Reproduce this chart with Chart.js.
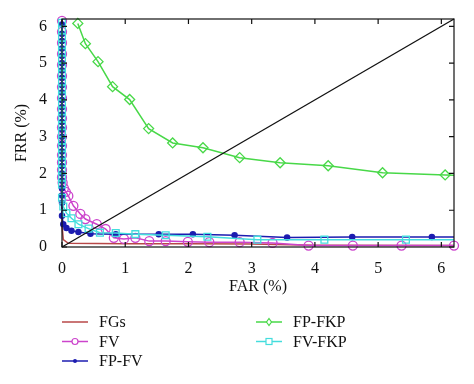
<!DOCTYPE html>
<html>
<head>
<meta charset="utf-8">
<script src="https://cdn.jsdelivr.net/npm/chart.js@4"></script>
<style>
  html, body { margin: 0; padding: 0; background: #fff; }
  #wrap { width: 474px; height: 384px; }
</style>
</head>
<body>
<div id="wrap"><canvas id="roc"></canvas></div>
<script>
const seriesNames = ["FGs", "FV", "FP-FV", "FP-FKP", "FV-FKP"];
const xTicks = [0, 1, 2, 3, 4, 5, 6];
const yTicks = [0, 1, 2, 3, 4, 5, 6];

// FAR / FRR values (in %)
const farFGs = [0, 0, 0.02, 0.1, 1.0, 2.0, 3.0, 4.0, 6.2];
const frrFGs = [6.2, 0.6, 0.2, 0.1, 0.09, 0.09, 0.08, 0.05, 0.04];

const farFV = [0, 0, 0, 0, 0, 0, 0, 0, 0, 0, 0, 0, 0, 0, 0, 0, 0, 0.01, 0.03, 0.06,
  0.1, 0.18, 0.29, 0.37, 0.55, 0.69, 0.82, 0.98, 1.16, 1.38, 1.64, 1.99, 2.33, 2.81,
  3.33, 3.9, 4.6, 5.37, 6.2];
const frrFV = [6.15, 5.85, 5.55, 5.25, 4.95, 4.65, 4.35, 4.05, 3.75, 3.5, 3.25, 3.0, 2.75, 2.5, 2.3, 2.1, 1.9, 1.75, 1.6, 1.5,
  1.39, 1.12, 0.9, 0.76, 0.62, 0.49, 0.25, 0.22, 0.25, 0.16, 0.16, 0.14, 0.13, 0.13,
  0.11, 0.04, 0.04, 0.04, 0.04];

const farFPFV = [0, 0, 0, 0, 0, 0, 0, 0, 0, 0, 0, 0, 0, 0, 0, 0, 0, 0, 0, 0, 0, 0, 0, 0, 0, 0,
  0.02, 0.07, 0.15, 0.26, 0.45, 0.85, 1.53, 2.07, 2.73, 3.56, 4.59, 5.85, 6.2];
const frrFPFV = [6.05, 5.8, 5.6, 5.4, 5.2, 5.0, 4.8, 4.6, 4.4, 4.2, 4.0, 3.8, 3.6, 3.4, 3.2, 3.0, 2.8, 2.6, 2.4, 2.2, 2.0, 1.8, 1.6, 1.4, 1.2, 0.85,
  0.62, 0.52, 0.44, 0.41, 0.36, 0.35, 0.35, 0.35, 0.32, 0.26, 0.27, 0.27, 0.27];

const farFPFKP = [0.25, 0.37, 0.57, 0.8, 1.07, 1.37, 1.75, 2.23, 2.81, 3.45, 4.21, 5.07, 6.06, 6.2];
const frrFPFKP = [6.08, 5.53, 5.04, 4.36, 4.01, 3.22, 2.83, 2.7, 2.43, 2.29, 2.21, 2.02, 1.96, 1.95];

const farFVFKP = [0, 0, 0, 0, 0, 0, 0, 0, 0, 0, 0, 0, 0, 0, 0, 0, 0, 0, 0, 0, 0, 0, 0, 0,
  0.02, 0.07, 0.15, 0.26, 0.42, 0.6, 0.85, 1.16, 1.64, 2.3, 3.09, 4.15, 5.44, 6.2];
const frrFVFKP = [6.1, 5.9, 5.7, 5.5, 5.3, 5.1, 4.9, 4.7, 4.5, 4.3, 4.1, 3.9, 3.7, 3.5, 3.3, 3.1, 2.9, 2.7, 2.5, 2.3, 2.1, 1.9, 1.7, 1.34,
  1.1, 0.92, 0.78, 0.62, 0.5, 0.39, 0.38, 0.35, 0.32, 0.28, 0.2, 0.2, 0.2, 0.2];

const eerLine = [0, 6.2];

const toPoints = (xs, ys) => xs.map((x, i) => ({ x: x, y: ys[i] }));
const noLastMarker = (xs, r) => xs.map((v, i) => (i === xs.length - 1 ? 0 : r));

const serif = "'Liberation Serif', 'DejaVu Serif', serif";

const colors = {
  "FGs": "#b84848",
  "FV": "#cc44cc",
  "FP-FV": "#1c1cb0",
  "FP-FKP": "#48d848",
  "FV-FKP": "#44dddd",
};

const datasets = [
  {
    label: "FGs",
    data: toPoints(farFGs, frrFGs),
    borderColor: colors["FGs"],
    borderWidth: 1.5,
    pointRadius: 0,
    order: 5,
  },
  {
    label: "FV",
    data: toPoints(farFV, frrFV),
    borderColor: colors["FV"],
    backgroundColor: "rgba(0,0,0,0)",
    borderWidth: 1.5,
    pointStyle: "circle",
    pointRadius: 4.5,
    pointBorderWidth: 1.3,
    order: 3,
  },
  {
    label: "FP-FV",
    data: toPoints(farFPFV, frrFPFV),
    borderColor: colors["FP-FV"],
    backgroundColor: colors["FP-FV"],
    borderWidth: 1.5,
    pointStyle: "circle",
    pointRadius: noLastMarker(farFPFV, 2.5),
    order: 2,
  },
  {
    label: "FP-FKP",
    data: toPoints(farFPFKP, frrFPFKP),
    borderColor: colors["FP-FKP"],
    backgroundColor: "rgba(0,0,0,0)",
    borderWidth: 1.5,
    pointStyle: "rectRot",
    pointRadius: noLastMarker(farFPFKP, 5),
    pointBorderWidth: 1.3,
    order: 4,
  },
  {
    label: "FV-FKP",
    data: toPoints(farFVFKP, frrFVFKP),
    borderColor: colors["FV-FKP"],
    backgroundColor: "rgba(0,0,0,0)",
    borderWidth: 1.5,
    pointStyle: "rect",
    pointRadius: noLastMarker(farFVFKP, 4.8),
    pointBorderWidth: 1.3,
    order: 1,
  },
  {
    label: "EER",
    data: toPoints(eerLine, eerLine),
    borderColor: "#111",
    borderWidth: 1.3,
    pointRadius: 0,
    order: 0,
  },
];

// frame with inward ticks on all four sides
const framePlugin = {
  id: "frame",
  afterDatasetsDraw(chart) {
    const { ctx, chartArea: a, scales } = chart;
    ctx.save();
    ctx.strokeStyle = "#111";
    ctx.lineWidth = 1.2;
    ctx.strokeRect(a.left, a.top, a.right - a.left, a.bottom - a.top);
    ctx.beginPath();
    xTicks.forEach((t) => {
      const px = scales.x.getPixelForValue(t);
      ctx.moveTo(px, a.bottom); ctx.lineTo(px, a.bottom - 5);
      ctx.moveTo(px, a.top); ctx.lineTo(px, a.top + 5);
    });
    yTicks.forEach((t) => {
      const py = scales.y.getPixelForValue(t);
      ctx.moveTo(a.left, py); ctx.lineTo(a.left + 5, py);
      ctx.moveTo(a.right, py); ctx.lineTo(a.right - 5, py);
    });
    ctx.stroke();
    ctx.restore();
  },
};

// two-column legend below the plot
const legendPlugin = {
  id: "bottomLegend",
  afterDraw(chart) {
    const { ctx } = chart;
    const cols = [
      { x: 62, names: ["FGs", "FV", "FP-FV"] },
      { x: 256, names: ["FP-FKP", "FV-FKP"] },
    ];
    ctx.save();
    ctx.font = "16px " + serif;
    ctx.textBaseline = "middle";
    cols.forEach((col) => {
      col.names.forEach((name, i) => {
        const y = 322 + i * 19.5;
        const ds = datasets.find((d) => d.label === name);
        ctx.strokeStyle = colors[name];
        ctx.lineWidth = 1.5;
        ctx.beginPath();
        ctx.moveTo(col.x, y); ctx.lineTo(col.x + 26, y);
        ctx.stroke();
        const cx = col.x + 13;
        ctx.lineWidth = 1.2;
        if (name === "FV") {
          ctx.beginPath(); ctx.arc(cx, y, 3, 0, Math.PI * 2);
          ctx.fillStyle = "#fff"; ctx.fill(); ctx.stroke();
        } else if (name === "FP-FV") {
          ctx.beginPath(); ctx.arc(cx, y, 2, 0, Math.PI * 2);
          ctx.fillStyle = colors[name]; ctx.fill();
        } else if (name === "FP-FKP") {
          ctx.beginPath();
          ctx.moveTo(cx, y - 3.5); ctx.lineTo(cx + 2.5, y); ctx.lineTo(cx, y + 3.5); ctx.lineTo(cx - 2.5, y);
          ctx.closePath(); ctx.fillStyle = "#fff"; ctx.fill(); ctx.stroke();
        } else if (name === "FV-FKP") {
          ctx.fillStyle = "#fff";
          ctx.fillRect(cx - 3, y - 3, 6, 6); ctx.strokeRect(cx - 3, y - 3, 6, 6);
        }
        ctx.fillStyle = "#111";
        ctx.fillText(ds.label, col.x + 37, y + 1);
      });
    });
    ctx.restore();
  },
};

new Chart(document.getElementById("roc"), {
  type: "scatter",
  data: { datasets: datasets },
  plugins: [framePlugin, legendPlugin],
  options: {
    responsive: true,
    maintainAspectRatio: false,
    animation: false,
    clip: false,
    showLine: true,
    layout: { padding: { left: 0, right: 20, top: 19, bottom: 84 } },
    plugins: { legend: { display: false }, tooltip: { enabled: false } },
    elements: { line: { tension: 0 } },
    scales: {
      x: {
        type: "linear",
        min: 0,
        max: 6.2,
        afterFit: (s) => { s.height = 53; },
        afterBuildTicks: (s) => { s.ticks = xTicks.map((v) => ({ value: v })); },
        grid: { display: false },
        border: { display: false },
        ticks: { color: "#111", font: { family: serif, size: 16 }, padding: 4 },
        title: { display: true, text: "FAR (%)", color: "#111", font: { family: serif, size: 16 }, padding: { top: 0, bottom: 4 } },
      },
      y: {
        type: "linear",
        min: 0,
        max: 6.2,
        afterFit: (s) => { s.width = 62; },
        afterBuildTicks: (s) => { s.ticks = yTicks.map((v) => ({ value: v })); },
        grid: { display: false },
        border: { display: false },
        ticks: { color: "#111", font: { family: serif, size: 16 }, padding: 7 },
        title: { display: true, text: "FRR (%)", color: "#111", font: { family: serif, size: 16 }, padding: { top: 12, bottom: 0 } },
      },
    },
  },
});
</script>
</body>
</html>
